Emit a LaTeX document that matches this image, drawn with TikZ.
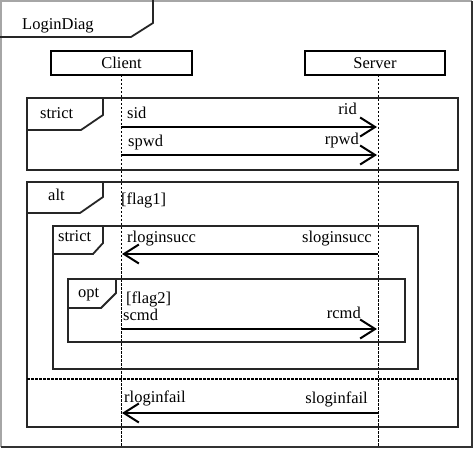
\documentclass[tikz,border=0pt]{standalone}
\usepackage{fontspec}
\setmainfont{Liberation Serif}
\usetikzlibrary{arrows.meta}
\begin{document}
\begin{tikzpicture}[x=1pt,y=-1pt,
  frm/.style={line width=1.8pt, draw=black!85},
  lbl/.style={inner sep=0pt, font=\fontsize{16.5}{18}\selectfont},
  life/.style={line width=1pt, dash pattern=on 2.5pt off 1.5pt},
  msg/.style={line width=2pt, -{Straight Barb[length=15pt,width=19pt,line width=2pt]}},
  obj/.style={draw, line width=1.5pt, minimum height=24pt, inner sep=0pt, font=\fontsize{16.5}{18}\selectfont}]
\useasboundingbox (0,0) rectangle (474,449);
\fill[white] (0,0) rectangle (474,449);
% outer frame
\draw[line width=2pt, gray!70] (1,447) -- (1,1) -- (472,1);
\draw[line width=2pt, black!80] (1,447) -- (472,447) -- (472,1);
% title pentagon
\draw[frm] (0,37) -- (131,37) -- (153,23) -- (153,0);
\node[lbl, anchor=base west] (title) at (22,30) {LoginDiag};
% lifeline heads
\node[obj, minimum width=141pt] (client) at (121.5,63) {Client};
\node[obj, minimum width=140pt] (server) at (375,63) {Server};
\coordinate (cltop) at (121,75);
\coordinate (clbot) at (121,447);
\coordinate (svtop) at (378,75);
\coordinate (svbot) at (378,447);
\draw[life] (cltop) -- (clbot);
\draw[life] (svtop) -- (svbot);
% strict frame 1
\draw[frm] (27,98) rectangle (458,170);
\draw[frm] (27,130) -- (81,130) -- (103,115) -- (103,98);
\node[lbl, anchor=base west] (s1) at (40,119) {strict};
\coordinate (m1a) at (121,127);
\coordinate (m1b) at (377,127);
\draw[msg] (m1a) -- (m1b);
\node[lbl, anchor=base west] (sid) at (127,119) {sid};
\node[lbl, anchor=base east] (rid) at (357,115) {rid};
\coordinate (m2a) at (121,155);
\coordinate (m2b) at (377,155);
\draw[msg] (m2a) -- (m2b);
\node[lbl, anchor=base west] (spwd) at (128,147) {spwd};
\node[lbl, anchor=base east] (rpwd) at (359,145) {rpwd};
% alt frame
\draw[frm] (27,182) rectangle (458,427);
\draw[frm] (27,213) -- (80,213) -- (103,197) -- (103,182);
\node[lbl, anchor=base west] (alt) at (48,201) {alt};
\node[lbl, anchor=base west] (flag1) at (121,205) {[flag1]};
\draw[line width=1.3pt, dash pattern=on 2.5pt off 1.5pt] (27,379) -- (458,379);
% strict frame 2
\draw[frm] (53,226) rectangle (418,369);
\draw[frm] (53,254) -- (93,254) -- (103,243) -- (103,226);
\node[lbl, anchor=base west] (s2) at (58,242) {strict};
\coordinate (m3a) at (378,254);
\coordinate (m3b) at (122,254);
\draw[msg] (m3a) -- (m3b);
\node[lbl, anchor=base west] (rls) at (127,243) {rloginsucc};
\node[lbl, anchor=base east] (sls) at (372,243) {sloginsucc};
% opt frame
\draw[frm] (68,279) rectangle (405,342);
\draw[frm] (68,308) -- (101,308) -- (116,293) -- (116,279);
\node[lbl, anchor=base west] (opt) at (78,298) {opt};
\node[lbl, anchor=base west] (flag2) at (126,303) {[flag2]};
\coordinate (m4a) at (121,329);
\coordinate (m4b) at (377,329);
\draw[msg] (m4a) -- (m4b);
\node[lbl, anchor=base west] (scmd) at (123,320) {scmd};
\node[lbl, anchor=base east] (rcmd) at (361,318) {rcmd};
% else part
\coordinate (m5a) at (378,413);
\coordinate (m5b) at (122,413);
\draw[msg] (m5a) -- (m5b);
\node[lbl, anchor=base west] (rlf) at (124,402) {rloginfail};
\node[lbl, anchor=base east] (slf) at (368,403) {sloginfail};
\end{tikzpicture}
\end{document}
